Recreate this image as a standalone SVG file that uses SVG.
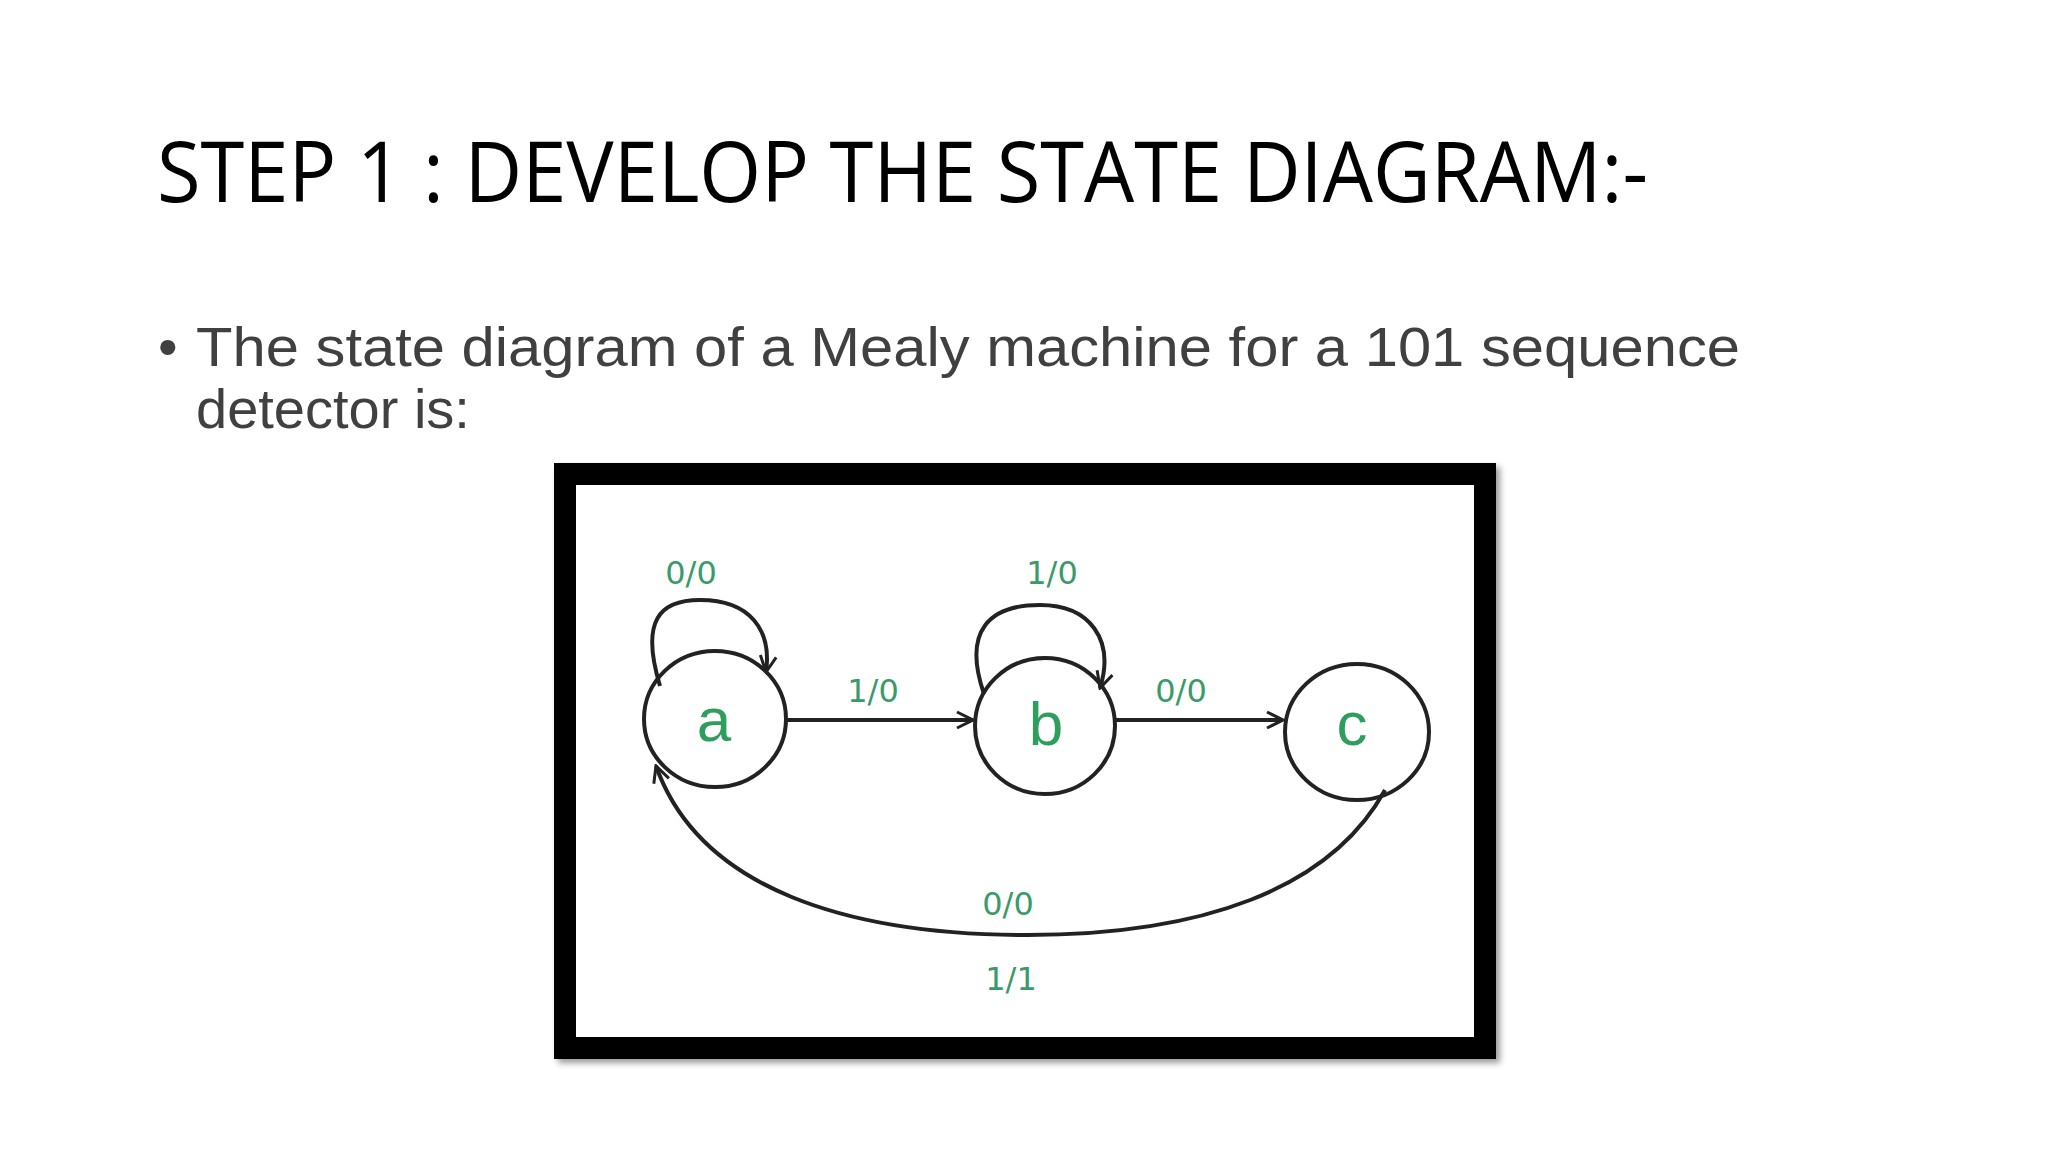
<svg xmlns="http://www.w3.org/2000/svg" width="2048" height="1152" viewBox="0 0 2048 1152">
<style>
.st{fill:none;stroke:#222;stroke-width:4}
.lbl{font-family:"DejaVu Sans",sans-serif;fill:#3a9a6a;font-size:32px;text-anchor:middle}
.nm{font-family:"Liberation Sans",sans-serif;fill:#2e9e5e;font-size:62px;text-anchor:middle}
</style>
<defs><marker id="ah" viewBox="0 0 20 20" refX="18" refY="10" markerWidth="20" markerHeight="20" markerUnits="userSpaceOnUse" orient="auto"><path d="M2,2 L18,10 L2,18" fill="none" stroke="#222" stroke-width="3"/></marker></defs>
<rect width="2048" height="1152" fill="#fff"/>
<text x="157" y="202" font-family="Open Sans,sans-serif" font-size="84" fill="#000" textLength="1491" lengthAdjust="spacingAndGlyphs">STEP 1 : DEVELOP THE STATE DIAGRAM:-</text>
<text x="158" y="366" font-family="Liberation Sans,sans-serif" font-size="56" fill="#404040">•</text>
<text x="196" y="366" font-family="Liberation Sans,sans-serif" font-size="56" fill="#404040" textLength="1544" lengthAdjust="spacingAndGlyphs">The state diagram of a Mealy machine for a 101 sequence</text>
<text x="196" y="428" font-family="Liberation Sans,sans-serif" font-size="56" fill="#404040">detector is:</text>
<rect x="565" y="474" width="920" height="574" fill="#fff" stroke="#000" stroke-width="22" style="filter:drop-shadow(4px 4px 3px #999)"/>
<g id="connectors">
<path class="st" d="M787,720 L973,720" marker-end="url(#ah)"/>
<path class="st" d="M1115,720 L1283,720" marker-end="url(#ah)"/>
<path class="st" d="M660,686 C640,620 660,600 700,600 C750,600 772,630 766,672" marker-end="url(#ah)"/>
<path class="st" d="M984,694 C962,630 990,605 1040,605 C1090,605 1115,640 1100,688" marker-end="url(#ah)"/>
<path class="st" d="M1385,790 C1330,890 1200,935 1027,935 C850,935 700,890 656,766" marker-end="url(#ah)"/>
</g>
<g id="a"><ellipse class="st" cx="715" cy="719" rx="71" ry="68"/><text class="nm" x="714" y="741">a</text></g>
<g id="b"><ellipse class="st" cx="1045" cy="726" rx="70" ry="68"/><text class="nm" x="1046" y="745">b</text></g>
<g id="c"><ellipse class="st" cx="1357" cy="732" rx="72" ry="68"/><text class="nm" x="1352" y="745">c</text></g>
<text class="lbl" x="691" y="584">0/0</text>
<text class="lbl" x="1052" y="584">1/0</text>
<text class="lbl" x="873" y="702">1/0</text>
<text class="lbl" x="1181" y="702">0/0</text>
<text class="lbl" x="1008" y="915">0/0</text>
<text class="lbl" x="1011" y="990">1/1</text>
</svg>
